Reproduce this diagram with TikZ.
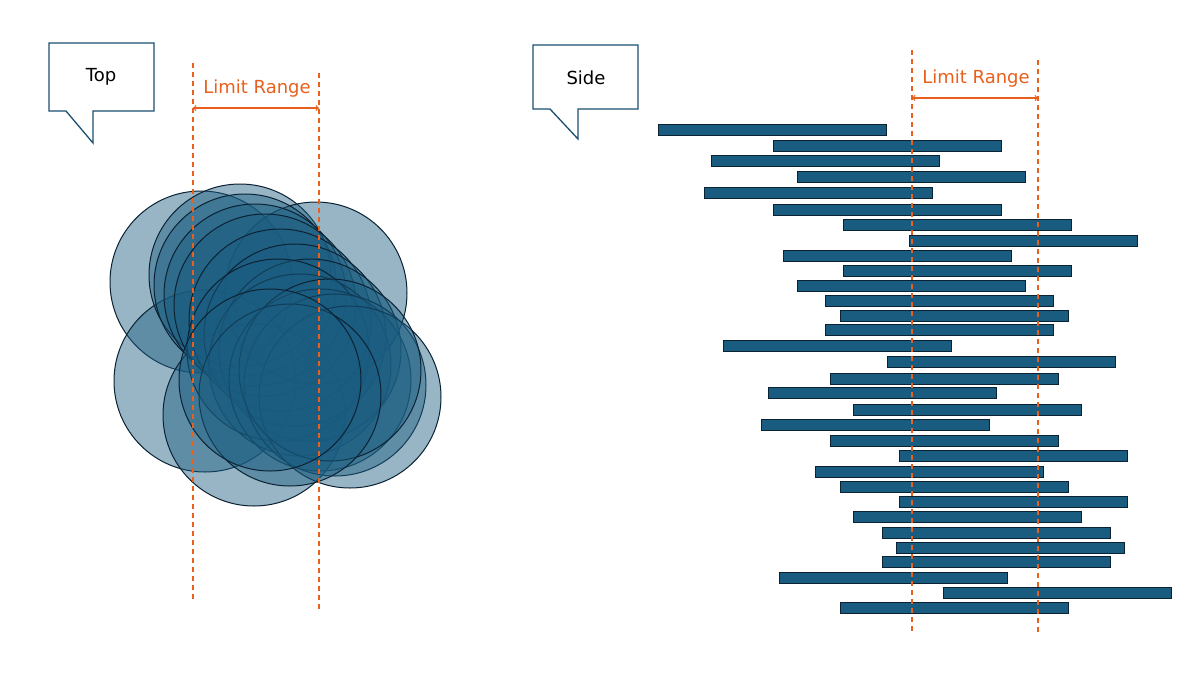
\documentclass[tikz,border=0pt]{standalone}
\usepackage{fontspec}
\setmainfont{DejaVu Sans}
\begin{document}
\begin{tikzpicture}[x=1pt,y=-1pt,
  callout/.style={draw=calloutblue,fill=white,line width=1.3pt,line join=miter},
  limitline/.style={draw=limorange,dashed,line width=1.2pt,dash pattern=on 5pt off 4pt},
  rangearrow/.style={draw=limorange,line width=1.2pt,<->},
  blob/.style={draw=blobedge,line width=1pt,fill=blobfill,fill opacity=0.45},
  bar/.style={draw=blobedge,line width=0.9pt,fill=blobfill},
  lbl/.style={font=\fontsize{18}{20}\selectfont}]
\definecolor{calloutblue}{HTML}{1B4F72}
\definecolor{limorange}{HTML}{E8601C}
\definecolor{blobedge}{HTML}{0B2233}
\definecolor{blobfill}{HTML}{1A5C80}
\useasboundingbox (0,0) rectangle (1200,673);
% callouts
\draw[callout] (49,43) -- (154,43) -- (154,111) -- (93,111) -- (93,143) -- (66,111) -- (49,111) -- cycle;
\node[lbl] (top) at (101,77) {Top};
\draw[callout] (533,45) -- (638,45) -- (638,109) -- (578,109) -- (578,139) -- (550,109) -- (533,109) -- cycle;
\node[lbl] (side) at (586,78) {Side};
% circles
\foreach \cx/\cy in {201/282,205/381,254/415,240/275,316/293,245/285,255/295,265/305,280/320,295/335,310/350,300/365,278/350,320/380,335/385,350/397,330/370,290/395,270/380}
  \draw[blob] (\cx,\cy) circle (91);
% bars
\foreach \a/\yy in {658/130,773/146,711/161,797/177,704/193,773/210,843/225,909/241,783/256,843/271,797/286,825/301,840/316,825/330,723/346,887/362,830/379,768/393,853/410,761/425,830/441,899/456,815/472,840/487,899/502,853/517,882/533,896/548,882/562,779/578,943/593,840/608}
  \draw[bar] (\a,\yy-5.5) rectangle ++(228,11);
% limit lines left
\coordinate (l1a) at (193,63); \coordinate (l1b) at (193,600);
\coordinate (l2a) at (319,73); \coordinate (l2b) at (319,610);
\draw[limitline] (l1a) -- (l1b);
\draw[limitline] (l2a) -- (l2b);
\coordinate (a1) at (193,108); \coordinate (a2) at (319,108);
\draw[rangearrow] (a1) -- (a2);
\node[lbl,text=limorange] (lr1) at (257,89) {Limit Range};
% limit lines right
\coordinate (r1a) at (912,50); \coordinate (r1b) at (912,633);
\coordinate (r2a) at (1038,60); \coordinate (r2b) at (1038,633);
\draw[limitline] (r1a) -- (r1b);
\draw[limitline] (r2a) -- (r2b);
\coordinate (b1) at (912,98); \coordinate (b2) at (1038,98);
\draw[rangearrow] (b1) -- (b2);
\node[lbl,text=limorange] (lr2) at (976,79) {Limit Range};
\end{tikzpicture}
\end{document}
